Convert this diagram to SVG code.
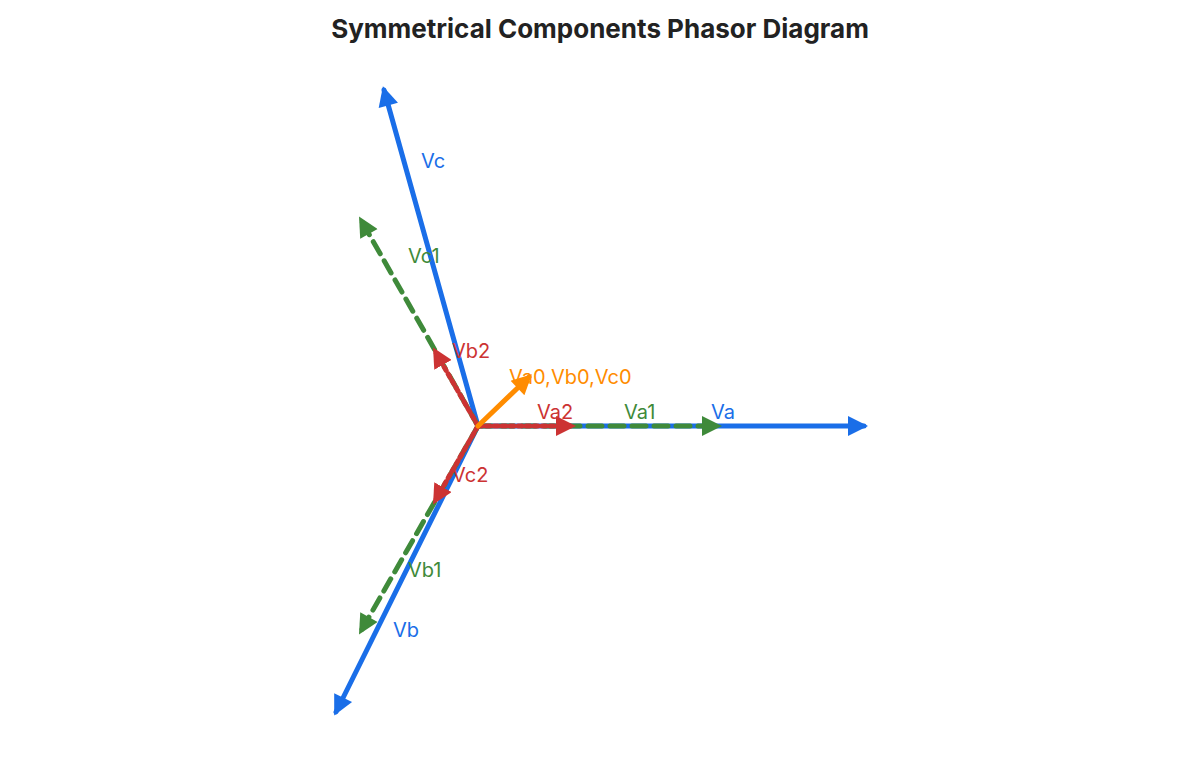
<svg xmlns="http://www.w3.org/2000/svg" width="1200" height="763" viewBox="0 0 1200 763">
<style>
.t{font-family:"Inter","Liberation Sans",sans-serif;font-size:20px}
.v{fill:none;stroke-width:5;stroke-linecap:round}
.b{stroke:#1a6ee8}.g{stroke:#3f8a3a;stroke-dasharray:14 8}.r{stroke:#cc3333;stroke-dasharray:4 4}.o{stroke:#ff8c00}
</style>
<defs>
<marker id="mb" viewBox="0 0 10 10" refX="8" refY="5" markerWidth="5" markerHeight="4" orient="auto" markerUnits="strokeWidth"><path d="M0,0L10,5L0,10z" fill="#1a6ee8"/></marker>
<marker id="mg" viewBox="0 0 10 10" refX="8" refY="5" markerWidth="5" markerHeight="4" orient="auto" markerUnits="strokeWidth"><path d="M0,0L10,5L0,10z" fill="#3f8a3a"/></marker>
<marker id="mr" viewBox="0 0 10 10" refX="8" refY="5" markerWidth="4" markerHeight="4" orient="auto" markerUnits="strokeWidth"><path d="M0,0L10,5L0,10z" fill="#cc3333"/></marker>
<marker id="mo" viewBox="0 0 10 10" refX="8" refY="5" markerWidth="5" markerHeight="4" orient="auto" markerUnits="strokeWidth"><path d="M0,0L10,5L0,10z" fill="#ff8c00"/></marker>
</defs>
<rect width="1200" height="763" fill="#fff"/>
<text x="600" y="38" text-anchor="middle" style="font-family:'Inter','Liberation Sans',sans-serif;font-size:26px;font-weight:bold" fill="#222">Symmetrical Components Phasor Diagram</text>
<g id="connectors">
<line class="v b" x1="478" y1="426" x2="864" y2="426" marker-end="url(#mb)"/>
<line class="v b" x1="478" y1="426" x2="384" y2="90" marker-end="url(#mb)"/>
<line class="v b" x1="478" y1="426" x2="336" y2="712" marker-end="url(#mb)"/>
<line class="v g" x1="478" y1="426" x2="718" y2="426" marker-end="url(#mg)"/>
<line class="v g" x1="478" y1="426" x2="361" y2="220" marker-end="url(#mg)"/>
<line class="v g" x1="478" y1="426" x2="361" y2="631" marker-end="url(#mg)"/>
<line class="v r" x1="478" y1="426" x2="572" y2="426" marker-end="url(#mr)"/>
<line class="v r" x1="478" y1="426" x2="435" y2="351" marker-end="url(#mr)"/>
<line class="v r" x1="478" y1="426" x2="435" y2="501" marker-end="url(#mr)"/>
<line class="v o" x1="478" y1="426" x2="529" y2="377" marker-end="url(#mo)"/>
</g>
<g id="labels" class="t">
<text x="711" y="419" fill="#1a6ee8">Va</text>
<text x="421" y="168" fill="#1a6ee8">Vc</text>
<text x="393" y="637" fill="#1a6ee8">Vb</text>
<text x="624" y="419" fill="#3f8a3a">Va1</text>
<text x="408" y="263" fill="#3f8a3a">Vc1</text>
<text x="408" y="577" fill="#3f8a3a">Vb1</text>
<text x="537" y="419" fill="#cc3333">Va2</text>
<text x="452" y="358" fill="#cc3333">Vb2</text>
<text x="452" y="482" fill="#cc3333">Vc2</text>
<text x="509" y="384" fill="#ff8c00">Va0,Vb0,Vc0</text>
</g>
</svg>
